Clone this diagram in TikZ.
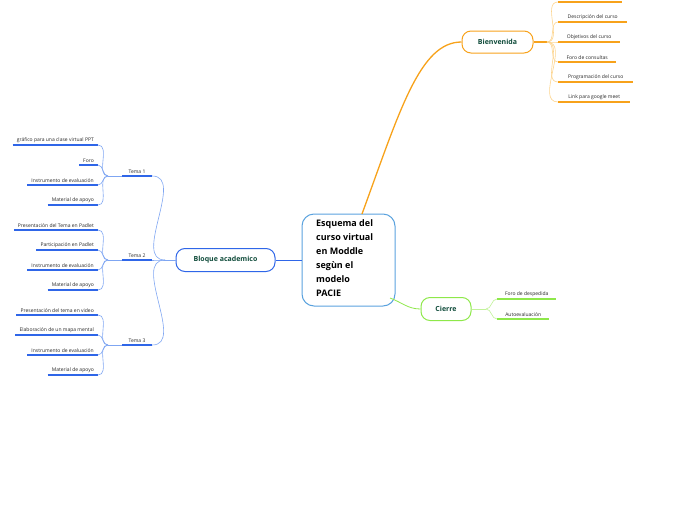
\documentclass[tikz,border=0pt]{standalone}
\usepackage{fontspec}
\setmainfont{Open Sans}
\definecolor{org}{HTML}{F7A21B}
\definecolor{orgl}{HTML}{FCD48E}
\definecolor{blu}{HTML}{2F66E8}
\definecolor{blul}{HTML}{7FA6F2}
\definecolor{cen}{HTML}{5AA2DE}
\definecolor{grn}{HTML}{8EE84A}
\definecolor{grnl}{HTML}{C2F29A}
\definecolor{tdk}{HTML}{0F4B3A}
\tikzset{
 main/.style={draw=#1,line width=1pt,rounded corners=9pt,font=\bfseries\fontsize{7}{8}\selectfont,text=tdk,inner sep=0pt},
 leaf/.style={font=\fontsize{5}{6}\selectfont,inner xsep=2pt,inner ysep=2pt,text=black!85},
 ul/.style={draw=#1,line width=1.1pt},
 con/.style={draw=#1,line width=0.6pt},
}
\begin{document}
\begin{tikzpicture}[x=1pt,y=-1pt]
\useasboundingbox (0,0) rectangle (697,520);
\begin{scope}
\clip (0,0) rectangle (697,520);
% central
\node[draw=cen,line width=1pt,rounded corners=12pt,minimum width=93pt,minimum height=92pt] (c) at (348.5,260) {};
\node[font=\bfseries\fontsize{9}{14}\selectfont,align=left,anchor=north west,inner sep=0pt] (ct) at (316,219) {Esquema del\\curso virtual\\en Moddle\\segùn el\\modelo\\PACIE};
% Bienvenida
\node[main=org,minimum width=71pt,minimum height=22pt] (b) at (497.5,42) {Bienvenida};
\draw[org,line width=1.3pt] (362,214) .. controls (400,110) and (420,42) .. (b.west);
\coordinate (bj) at (547,42);
\draw[org,line width=1.3pt] (b.east)--(bj);
\foreach \n/\y/\w/\t in {b1/2/64/{},b2/22/69/{Descripción del curso},b3/42/62/{Objetivos del curso},b4/62/58/{Foro de consultas},b5/82/75/{Programación del curso},b6/102/72/{Link para google meet}}{
 \node[leaf,anchor=south west,minimum width=\w pt] (\n) at (558,\y) {\t};
 \draw[ul=org] (\n.south west)--(\n.south east);
 \draw[con=orgl] (bj) to[out=0,in=180] (\n.south west);
}
% Cierre
\node[main=grn,minimum width=50pt,minimum height=23pt] (ci) at (446,309) {Cierre};
\draw[grn,line width=0.8pt] (390,298) to[out=-20,in=180] (ci.west);
\coordinate (cj) at (486,309);
\draw[con=grnl] (ci.east)--(cj);
\foreach \n/\y/\w/\t in {c1/299/59/{Foro de despedida},c2/319/52/{Autoevaluación}}{
 \node[leaf,anchor=south west,minimum width=\w pt] (\n) at (497,\y) {\t};
 \draw[ul=grn] (\n.south west)--(\n.south east);
 \draw[con=grnl] (cj) to[out=0,in=180] (\n.south west);
}
% Bloque
\node[main=blu,minimum width=99pt,minimum height=23pt] (bl) at (225.5,260) {Bloque academico};
\draw[con=blu] (c.west)--(bl.east);
\coordinate (blj) at (165,260);
\draw[con=blul] (bl.west)--(blj);
\foreach \tn/\ty/\lab [count=\k] in {t1/176/Tema 1,t2/260/Tema 2,t3/345/Tema 3}{
 \node[leaf,anchor=south,minimum width=30pt] (\tn) at (137,\ty) {\lab};
 \draw[ul=blu] (\tn.south west)--(\tn.south east);
 \draw[con=blul] (blj) to[out=180,in=0] (\tn.south east);
}
\coordinate (j1) at (108,176);
\coordinate (j2) at (108,260);
\coordinate (j3) at (108,345);
\draw[con=blul] (t1.south west)--(j1);
\draw[con=blul] (t2.south west)--(j2);
\draw[con=blul] (t3.south west)--(j3);
\foreach \n/\j/\y/\t in {
 a1/j1/145/{gráfico para una clase virtual PPT},a2/j1/165/{Foro},a3/j1/185/{Instrumento de evaluación},a4/j1/205/{Material de apoyo},
 d1/j2/230/{Presentación del Tema en Padlet},d2/j2/250/{Participación en Padlet},d3/j2/270/{Instrumento de evaluación},d4/j2/290/{Material de apoyo},
 e1/j3/315/{Presentación  del tema en video},e2/j3/335/{Elaboración de un mapa mental},e3/j3/355/{Instrumento de evaluación},e4/j3/375/{Material de apoyo}}{
 \node[leaf,anchor=south east,inner xsep=4pt] (\n) at (98,\y) {\t};
 \draw[ul=blu] (\n.south west)--(\n.south east);
 \draw[con=blul] (\j) to[out=180,in=0] (\n.south east);
}
\end{scope}
\end{tikzpicture}
\end{document}
